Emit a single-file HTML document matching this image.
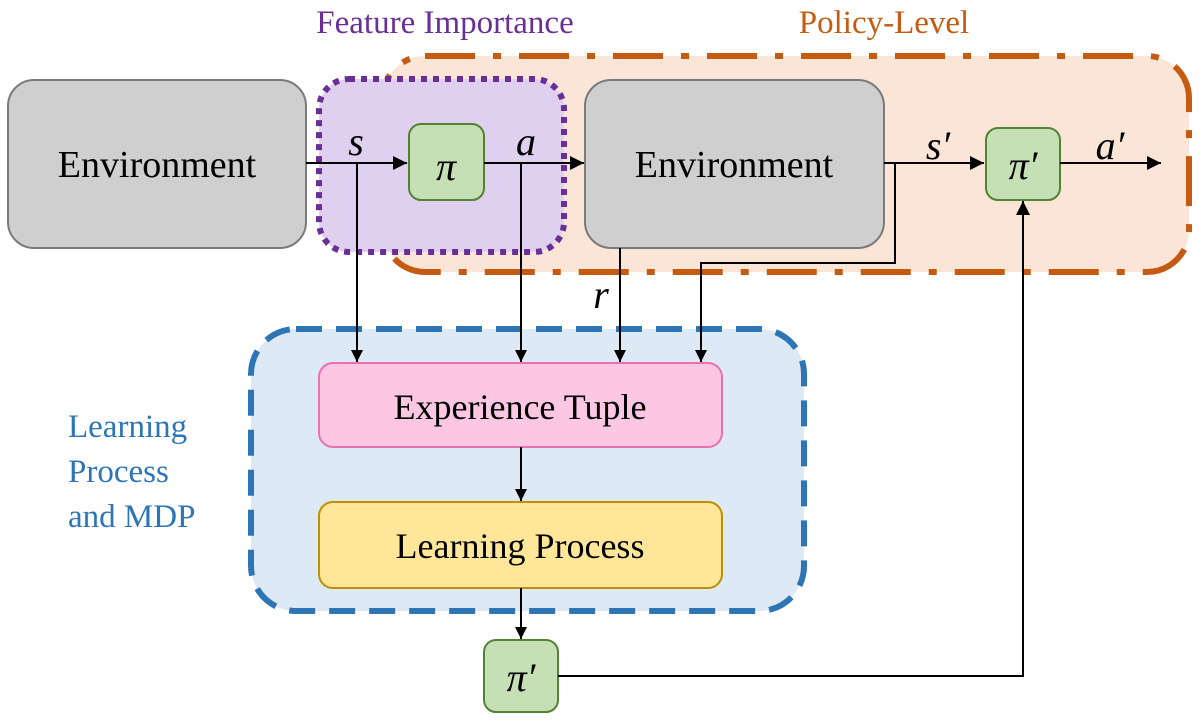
<!DOCTYPE html>
<html><head><meta charset="utf-8"><style>
html,body{margin:0;padding:0;background:#fff;}
svg{display:block}
text{font-family:"Liberation Serif",serif;}
</style></head><body>
<svg width="1200" height="720" viewBox="0 0 1200 720" xmlns="http://www.w3.org/2000/svg">
<defs>
<marker id="ar" viewBox="0 0 10 10" refX="10" refY="5" markerWidth="12" markerHeight="12" markerUnits="userSpaceOnUse" orient="auto">
<path d="M0,0 L10,5 L0,10 z" fill="#000"/></marker>
<marker id="ar2" viewBox="0 0 10 10" refX="10" refY="5" markerWidth="16" markerHeight="14" markerUnits="userSpaceOnUse" orient="auto">
<path d="M0,0 L10,5 L0,10 z" fill="#000"/></marker>
</defs>
<rect x="383" y="56" width="806" height="216" rx="42" fill="#fbe5d6" stroke="#c55a11" stroke-width="6" stroke-dasharray="50,18,8,18"/>
<rect x="251" y="329" width="553" height="282" rx="45" fill="#dde9f5" stroke="#2e75b6" stroke-width="6" stroke-dasharray="26,14"/>
<rect x="319" y="79" width="245" height="173" rx="30" fill="#e0d0ef" stroke="#6a2f97" stroke-width="6" stroke-dasharray="6,6"/>
<rect x="8" y="80" width="298" height="168" rx="26" fill="#cfcfcf" stroke="#7a7a7a" stroke-width="2"/>
<text x="157" y="177" font-size="38" text-anchor="middle">Environment</text>
<rect x="585" y="80" width="299" height="168" rx="26" fill="#cfcfcf" stroke="#7a7a7a" stroke-width="2"/>
<text x="734" y="177" font-size="38" text-anchor="middle">Environment</text>
<rect x="409" y="124" width="75" height="76" rx="12" fill="#c5e0b4" stroke="#548235" stroke-width="2"/>
<text x="446" y="180" font-size="40" font-style="italic" text-anchor="middle">π</text>
<rect x="986" y="128" width="74" height="72" rx="12" fill="#c5e0b4" stroke="#548235" stroke-width="2"/>
<text x="1023" y="179" font-size="40" font-style="italic" text-anchor="middle">π′</text>
<rect x="484" y="640" width="74" height="72" rx="12" fill="#c5e0b4" stroke="#548235" stroke-width="2"/>
<text x="521" y="691" font-size="40" font-style="italic" text-anchor="middle">π′</text>
<rect x="319" y="363" width="403" height="84" rx="14" fill="#fbc7e3" stroke="#e971b0" stroke-width="2"/>
<text x="520" y="419" font-size="36" text-anchor="middle">Experience Tuple</text>
<rect x="319" y="502" width="403" height="86" rx="14" fill="#ffe699" stroke="#bf9000" stroke-width="2"/>
<text x="520" y="558" font-size="36" text-anchor="middle">Learning Process</text>
<g stroke="#000" stroke-width="2" fill="none">
<line x1="306" y1="163" x2="407" y2="163" marker-end="url(#ar2)"/>
<line x1="484" y1="163" x2="584" y2="163" marker-end="url(#ar2)"/>
<line x1="884" y1="163" x2="984" y2="163" marker-end="url(#ar2)"/>
<line x1="1060" y1="163" x2="1161" y2="163" marker-end="url(#ar2)"/>
<line x1="357" y1="163" x2="357" y2="362" marker-end="url(#ar)"/>
<line x1="521" y1="163" x2="521" y2="362" marker-end="url(#ar)"/>
<line x1="620" y1="248" x2="620" y2="362" marker-end="url(#ar)"/>
<polyline points="895,163 895,263 701,263 701,362" marker-end="url(#ar)"/>
<line x1="521" y1="447" x2="521" y2="501" marker-end="url(#ar)"/>
<line x1="521" y1="588" x2="521" y2="639" marker-end="url(#ar)"/>
<polyline points="558,676 1023,676 1023,201" marker-end="url(#ar2)"/>
</g>
<g font-style="italic" font-size="40">
<text x="356" y="155" text-anchor="middle">s</text>
<text x="526" y="155" text-anchor="middle">a</text>
<text x="601" y="308" text-anchor="middle">r</text>
<text x="938" y="159" text-anchor="middle">s′</text>
<text x="1110" y="159" text-anchor="middle">a′</text>
</g>
<text x="445" y="33" font-size="33" fill="#6a2f97" text-anchor="middle">Feature Importance</text>
<text x="884" y="33" font-size="33" fill="#c55a11" text-anchor="middle">Policy-Level</text>
<g font-size="33" fill="#2e75b6">
<text x="68" y="437">Learning</text>
<text x="68" y="482">Process</text>
<text x="68" y="527">and MDP</text>
</g>
</svg>
</body></html>
